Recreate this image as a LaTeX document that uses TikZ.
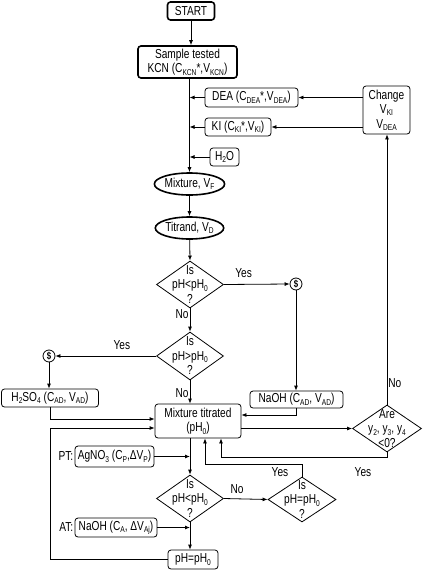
\documentclass[tikz,border=0pt]{standalone}
\usepackage{fontspec}
\setmainfont{Liberation Sans}[FakeStretch=0.78]
\usetikzlibrary{shapes,arrows.meta,calc}
\newcommand{\sbs}[1]{\raisebox{-0.35ex}{\fontsize{8.5}{8.5}\selectfont #1}}
\newcommand{\txtfont}{\fontsize{13}{14.5}\selectfont}
\tikzset{
    block/.style = {draw, rectangle, rounded corners=3pt, inner sep=0pt,
        align=center, font=\txtfont},
    startbox/.style = {block, line width=1.6pt},
    oval/.style = {draw, ellipse, inner sep=0pt, line width=1.6pt, font=\txtfont},
    decision/.style = {draw, diamond, inner sep=0pt},
    dtext/.style = {align=center, inner sep=0pt, font=\txtfont},
    conn/.style = {draw, circle, inner sep=0pt, minimum size=12pt,
        font=\fontsize{10}{10}\selectfont\bfseries},
    arrow/.style = {draw, -{Latex[length=5pt,width=4pt]}},
    lbl/.style = {inner sep=1pt, font=\txtfont}
}

\begin{document}
\begin{tikzpicture}[x=1pt, y=-1pt, line width=0.8pt]
    \useasboundingbox (0,0) rectangle (424,571);
    % top part
    \node [startbox, minimum width=47, minimum height=18] (start) at (191,11) {START};
    \node [startbox, minimum width=99, minimum height=32] (sample) at (187.5,62)
        {Sample tested\\KCN (C\sbs{KCN}*,V\sbs{KCN})};
    \node [block, minimum width=93, minimum height=19] (dea) at (251.5,97.5)
        {DEA (C\sbs{DEA}*,V\sbs{DEA})};
    \node [block, minimum width=66, minimum height=18] (ki) at (238,127)
        {KI (C\sbs{KI}*,V\sbs{KI})};
    \node [block, minimum width=29, minimum height=18] (h2o) at (224.5,157)
        {H\sbs{2}O};
    \node [block, minimum width=47, minimum height=48] (change) at (386.5,110)
        {Change\\V\sbs{KI}\\V\sbs{DEA}};
    \node [oval, minimum width=69, minimum height=22] (mixF) at (189.5,184)
        {Mixture, V\sbs{F}};
    \node [oval, minimum width=67, minimum height=22] (titrand) at (189.5,228)
        {Titrand, V\sbs{D}};

    % pH decisions
    \node [decision, minimum width=67, minimum height=47] (d1) at (190,284.5) {};
    \node [dtext] at (d1) {Is\\pH<pH\sbs{0}\\?};
    \node [conn] (s1) at (296,284) {\$};
    \node [decision, minimum width=67, minimum height=48] (d2) at (190,356) {};
    \node [dtext] at (d2) {Is\\pH>pH\sbs{0}\\?};
    \node [conn] (s2) at (49,356) {\$};
    \node [block, minimum width=97, minimum height=18] (h2so4) at (50,398)
        {H\sbs{2}SO\sbs{4} (C\sbs{AD}, V\sbs{AD})};
    \node [block, minimum width=93, minimum height=17] (naohad) at (296.5,399.5)
        {NaOH (C\sbs{AD}, V\sbs{AD})};
    \node [block, minimum width=86, minimum height=34] (mixT) at (198,421)
        {Mixture titrated\\(pH\sbs{0})};
    \node [decision, minimum width=69, minimum height=47] (are) at (387,428.5) {};
    \node [dtext] at (are) {Are\\y\sbs{2}, y\sbs{3}, y\sbs{4}\\<0?};

    % titration
    \node [block, minimum width=79, minimum height=21] (agno3) at (114.5,456.5)
        {AgNO\sbs{3} (C\sbs{P},ΔV\sbs{P})};
    \node [lbl, anchor=east] (pt) at (agno3.west) {PT:};
    \node [decision, minimum width=67, minimum height=47] (d3) at (190,498.5) {};
    \node [dtext] at (d3) {Is\\pH<pH\sbs{0}\\?};
    \node [decision, minimum width=68, minimum height=45] (d4) at (302,499.5) {};
    \node [dtext] at (d4) {Is\\pH=pH\sbs{0}\\?};
    \node [block, minimum width=82, minimum height=19] (naoha) at (116,527.5)
        {NaOH (C\sbs{A}, ΔV\sbs{Aj})};
    \node [lbl, anchor=east] (at) at (naoha.west) {AT:};
    \node [block, minimum width=50, minimum height=19] (pheq) at (193,559.5)
        {pH=pH\sbs{0}};

    % connectors
    \draw [arrow] (start.south) -- (start.south |- sample.north);
    \draw [arrow] (mixF.north |- sample.south) -- (mixF.north);
    \draw [arrow] (dea.west) -- (dea.west -| mixF.north);
    \draw [arrow] (ki.west) -- (ki.west -| mixF.north);
    \draw [arrow] (h2o.west) -- (h2o.west -| mixF.north);
    \draw [arrow] (change.west |- dea) -- (dea.east);
    \draw [arrow] (change.west |- ki) -- (ki.east);
    \draw [arrow] (mixF) -- (titrand);
    \draw [arrow] (titrand) -- (d1.north);
    \draw [arrow] (d1.east) -- node [lbl, pos=0.3, above=5pt] {Yes} (s1.west);
    \draw [arrow] (d1.south) -- node [lbl, pos=0.25, left] {No} (d2.north);
    \draw [arrow] (d2.west) -- node [lbl, pos=0.34, above=5pt] {Yes} (s2.east);
    \draw [arrow] (s2.south) -- (s2.south |- h2so4.north);
    \draw [arrow] (d2.south) -- node [lbl, pos=0.55, left] {No} (d2.south |- mixT.north);
    \draw [arrow] (s1.south) -- (s1.south |- naohad.north);
    \draw [arrow] (naohad.south) |- ([yshift=6pt]mixT.east);
    \draw [arrow] (h2so4.south) |- ([yshift=2pt]mixT.west);
    \draw [arrow] (are.west -| mixT.east) -- (are.west);
    \draw [arrow] (are.north) -- node [lbl, pos=0.08, right] {No} (are.north |- change.south);
    \draw [arrow] (are.south) -- ++(0,5) -| ([xshift=23pt]mixT.south);
    \node [lbl] (yes3) at (363,472) {Yes};
    \draw [arrow] (d4.north) -- ++(0,-12) -| ([xshift=7pt]mixT.south);
    \node [lbl] (yes4) at (280,472) {Yes};
    \draw [arrow] (d3.north |- mixT.south) -- (d3.north);
    \draw [arrow] (agno3.east) -- (agno3.east -| d3.north);
    \draw [arrow] (d3.east) -- node [lbl, pos=0.3, above=4pt] {No} (d4.west);
    \draw [arrow] (d3.south) -- (d3.south |- pheq.north);
    \draw [arrow] (naoha.east) -- (naoha.east -| d3.north);
    \draw [arrow] (pheq.west) -- (pheq.west -| h2so4.south) |- ([yshift=-7pt]mixT.west);
\end{tikzpicture}
\end{document}
